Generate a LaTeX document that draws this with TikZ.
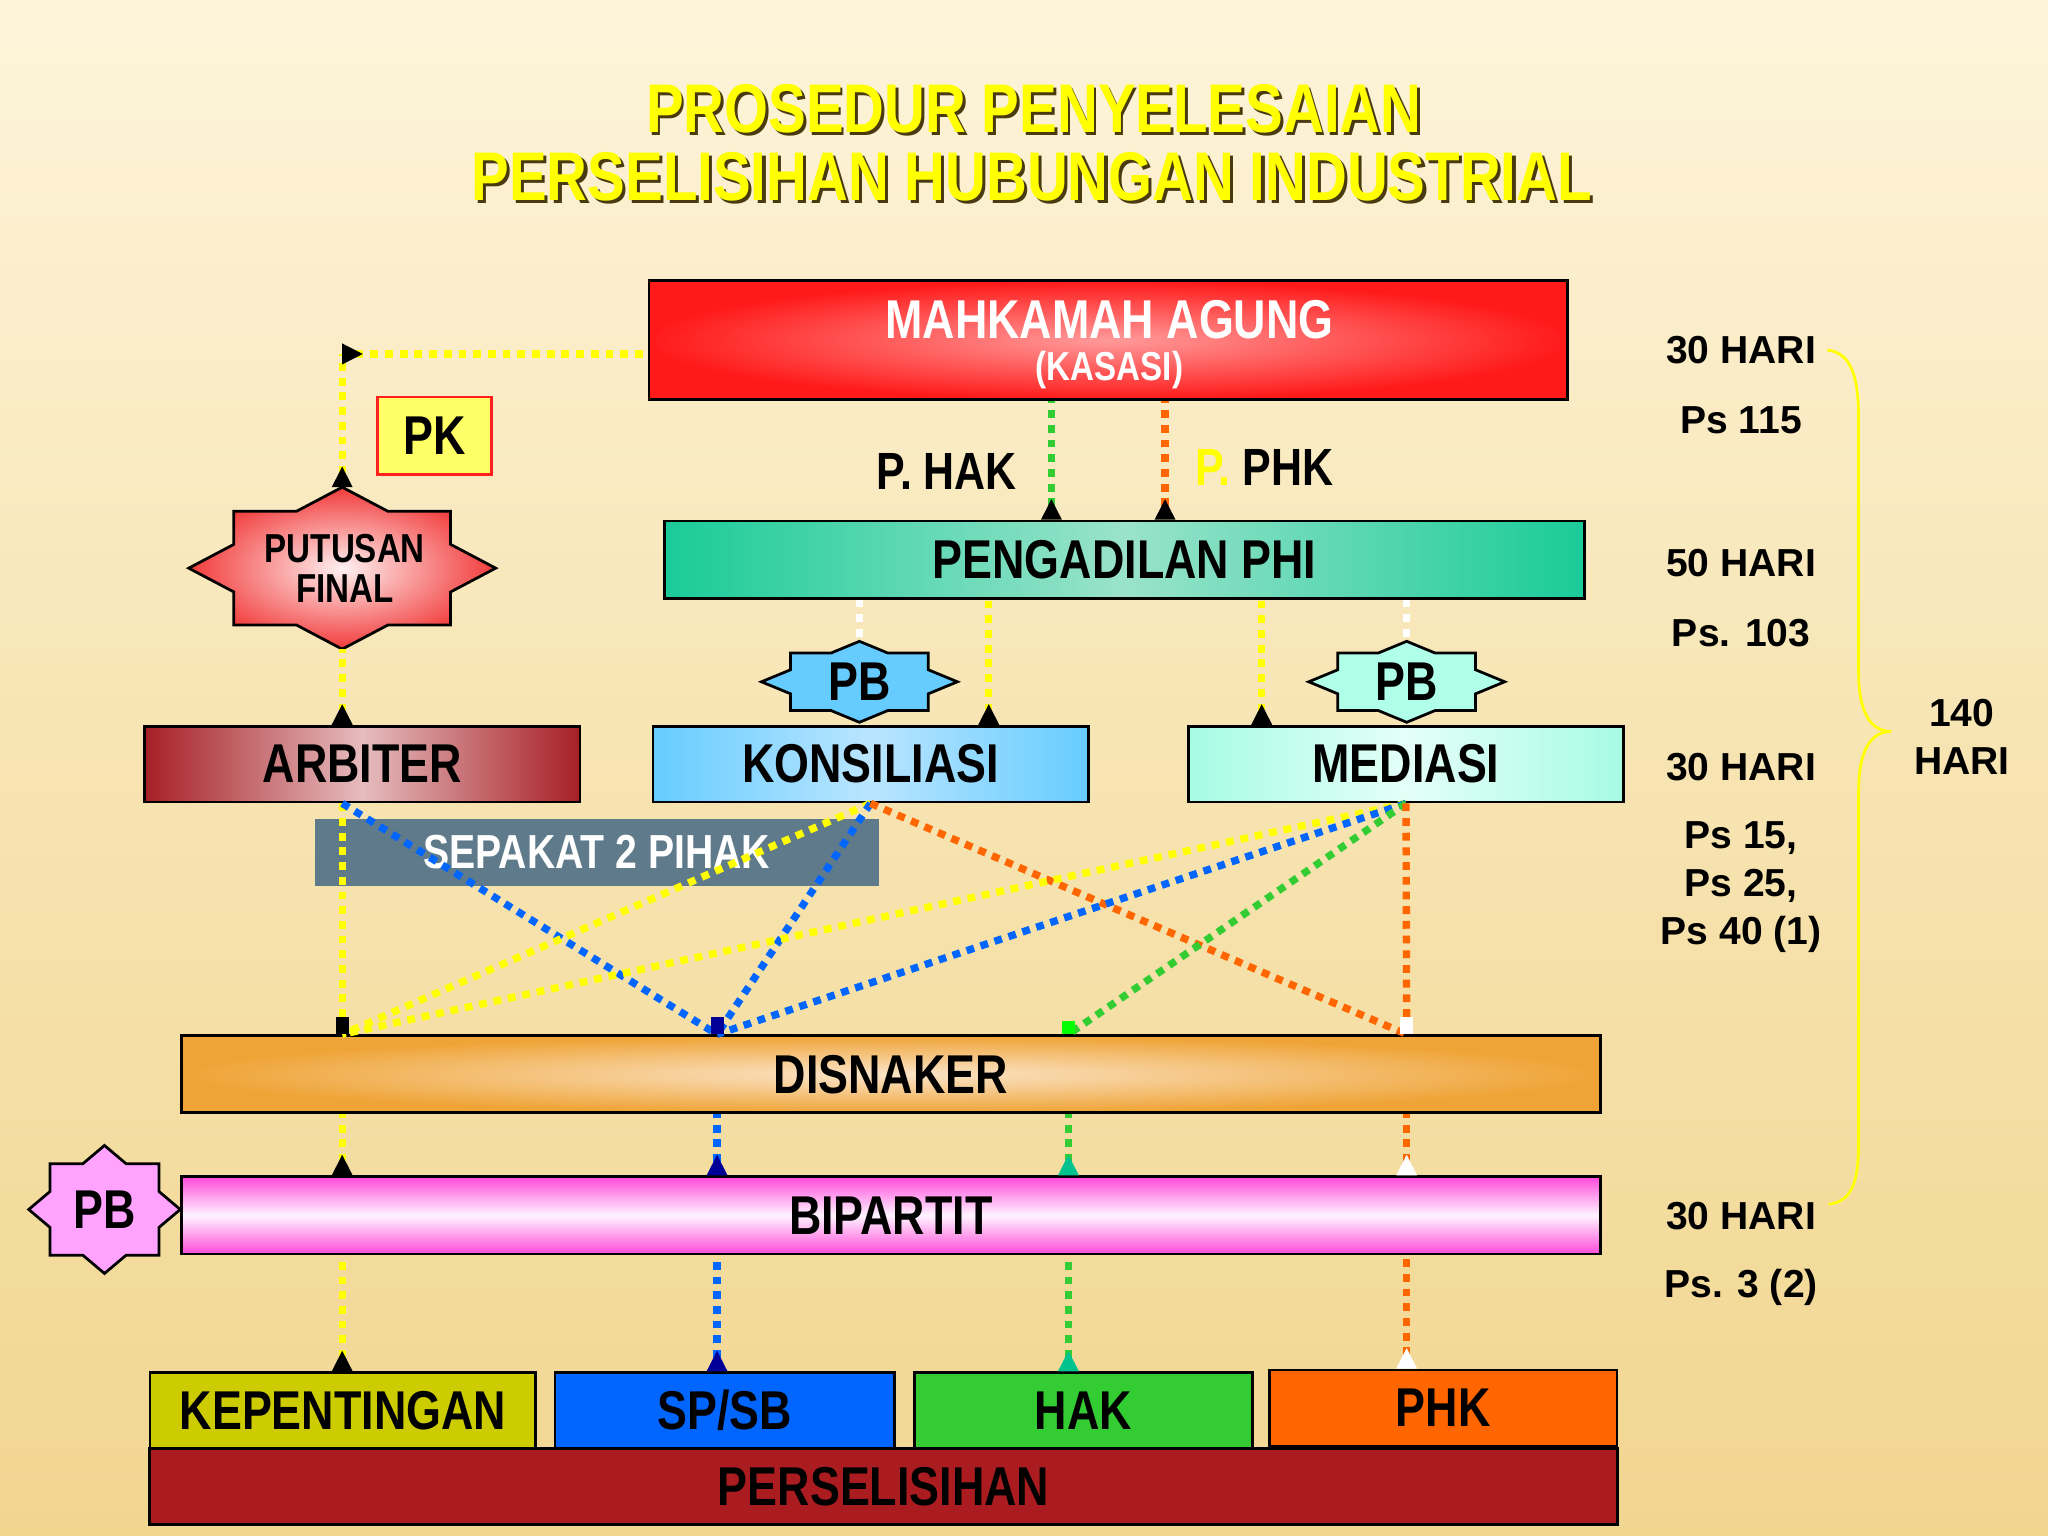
\documentclass[tikz,border=0pt]{standalone}
\usepackage{fontspec}
\setmainfont{Liberation Sans}
\newfontfamily\narrowfont[FakeStretch=0.82]{Liberation Sans}
\usepackage{tikz}
\usetikzlibrary{calc,arrows.meta}

\definecolor{bgtop}{HTML}{FDF4DA}
\definecolor{bgmid}{HTML}{F7E4B2}
\definecolor{bgbot}{HTML}{F1D690}
\definecolor{lnyellow}{HTML}{FFFF00}
\definecolor{lnblue}{HTML}{0066FF}
\definecolor{lngreen}{HTML}{33CC33}
\definecolor{lnorange}{HTML}{FF6600}
\definecolor{tipnavy}{HTML}{000099}
\definecolor{tipteal}{HTML}{00C28E}
\definecolor{shadowc}{HTML}{4A3A10}
\definecolor{maedge}{HTML}{FF1A1A}
\definecolor{mamid}{HTML}{FF9A9A}
\definecolor{pkfill}{HTML}{FFFF66}
\definecolor{pkline}{HTML}{FF2020}
\definecolor{phiedge}{HTML}{1ACB98}
\definecolor{phimid}{HTML}{9AE3CA}
\definecolor{arbedge}{HTML}{A62026}
\definecolor{arbmid}{HTML}{E6BCBE}
\definecolor{konsedge}{HTML}{66CCFF}
\definecolor{konsmid}{HTML}{BAE5FF}
\definecolor{mededge}{HTML}{A6FBE4}
\definecolor{medmid}{HTML}{E4FFF8}
\definecolor{sepfill}{HTML}{5F7A8A}
\definecolor{disedge}{HTML}{EFA437}
\definecolor{dismid}{HTML}{FBE4C8}
\definecolor{bipedge}{HTML}{FF4ADB}
\definecolor{bipmid}{HTML}{FFF4FF}
\definecolor{persfill}{HTML}{AA1C1F}
\definecolor{kepfill}{HTML}{CCCC00}
\definecolor{spsbfill}{HTML}{0066FF}
\definecolor{hakfill}{HTML}{33CC33}
\definecolor{phkfill}{HTML}{FF6600}
\definecolor{putedge}{HTML}{F23B3B}
\definecolor{putmid}{HTML}{FFF0F0}
\definecolor{pbblue}{HTML}{66CCFF}
\definecolor{pbaqua}{HTML}{AFFFE9}
\definecolor{pbpink}{HTML}{FFA3FF}
\definecolor{markgreen}{HTML}{00FF00}

\newcommand{\bxfont}{\narrowfont\bfseries\fontsize{11.9}{13}\selectfont}
\newcommand{\smfont}{\narrowfont\bfseries\fontsize{8.8}{8.8}\selectfont}
\newcommand{\ttlfont}{\narrowfont\bfseries\fontsize{15}{17}\selectfont}
\newcommand{\hrfont}{\bfseries\fontsize{8.5}{10.4}\selectfont}

% star = square + diamond: cx, cy, square half w/h, diamond half w/h, options
\newcommand{\eightstar}[7]{%
  \pgfmathsetmacro{\sa}{#5*(1-#4/#6)}%
  \pgfmathsetmacro{\sb}{#6*(1-#3/#5)}%
  \path[#7] (#1,#2-#6) -- (#1+\sa,#2-#4) -- (#1+#3,#2-#4) -- (#1+#3,#2-\sb)
    -- (#1+#5,#2) -- (#1+#3,#2+\sb) -- (#1+#3,#2+#4) -- (#1+\sa,#2+#4)
    -- (#1,#2+#6) -- (#1-\sa,#2+#4) -- (#1-#3,#2+#4) -- (#1-#3,#2+\sb)
    -- (#1-#5,#2) -- (#1-#3,#2-\sb) -- (#1-#3,#2-#4) -- (#1-\sa,#2-#4) -- cycle;}

\tikzset{
  box/.style={draw=black, line width=0.6pt, inner sep=0pt, font=\bxfont},
  starline/.style={draw=black, line width=0.6pt},
  dotline/.style={line width=1.6pt, dash pattern=on 1.7pt off 1.5pt},
  tipup/.style={arrows={{Triangle[reversed,length=4.6pt,width=4.2pt,color=#1]}-}},
  tipup/.default=black,
  hari/.style={font=\hrfont, align=center, inner sep=0pt},
  label/.style={font=\narrowfont\bfseries\fontsize{11.4}{13}\selectfont, inner sep=0pt}
}

\begin{document}
\begin{tikzpicture}[x=0.01cm,y=-0.01cm]
  % background
  \shade[top color=bgtop, bottom color=bgbot, middle color=bgmid] (0,0) rectangle (1568,1176);
  \useasboundingbox (0,0) rectangle (1568,1176);

  % title
  \node[font=\ttlfont, text=shadowc] (title1s) at (793.5,85.5) {PROSEDUR PENYELESAIAN};
  \node[font=\ttlfont, text=lnyellow] (title1) at (791.5,83) {PROSEDUR PENYELESAIAN};
  \node[font=\ttlfont, text=shadowc] (title2s) at (792.5,137.5) {PERSELISIHAN HUBUNGAN INDUSTRIAL};
  \node[font=\ttlfont, text=lnyellow] (title2) at (790,135) {PERSELISIHAN HUBUNGAN INDUSTRIAL};

  % columns
  \coordinate (xa) at (262,0);
  \coordinate (xb) at (549,0);
  \coordinate (xc) at (818,0);
  \coordinate (xd) at (1077,0);
  \coordinate (xhak) at (805,0);
  \coordinate (xphk) at (892,0);
  \coordinate (xk) at (757,0);
  \coordinate (xm) at (966,0);

  % boxes
  \node[box, minimum width=7.03cm, minimum height=0.91cm, inner color=mamid, outer color=maedge] (ma) at (848.5,260.5) {};
  \node[font=\bxfont, text=white, inner sep=0pt] (matext) at (849.5,245) {MAHKAMAH AGUNG};
  \node[font=\smfont, text=white, inner sep=0pt] (kasasi) at (849.5,283) {(KASASI)};
  \node[box, draw=pkline, fill=pkfill, minimum width=0.87cm, minimum height=0.59cm] (pk) at (332.5,333.5) {PK};
  \node[box, minimum width=7.04cm, minimum height=0.59cm, left color=phiedge, right color=phiedge,
        middle color=phimid] (phi) at (861,428.5) {PENGADILAN PHI};
  \node[box, minimum width=3.33cm, minimum height=0.58cm, left color=arbedge, right color=arbedge,
        middle color=arbmid] (arb) at (277.5,585) {ARBITER};
  \node[box, minimum width=3.33cm, minimum height=0.58cm, left color=konsedge, right color=konsedge,
        middle color=konsmid] (kons) at (666.5,585) {KONSILIASI};
  \node[box, minimum width=3.33cm, minimum height=0.58cm, left color=mededge, right color=mededge,
        middle color=medmid] (med) at (1076.5,585) {MEDIASI};
  \node[box, draw=none, fill=sepfill, minimum width=4.32cm, minimum height=0.51cm, text=white,
        font=\narrowfont\bfseries\fontsize{10.4}{12}\selectfont] (sepakat) at (457,652.5) {SEPAKAT 2 PIHAK};
  \node[box, minimum width=10.86cm, minimum height=0.59cm, inner color=dismid, outer color=disedge] (dis) at (682,822.5) {DISNAKER};
  \node[box, minimum width=10.86cm, minimum height=0.59cm, top color=bipedge, bottom color=bipedge,
        middle color=bipmid] (bip) at (682,930.5) {BIPARTIT};
  \node[box, minimum width=11.23cm, minimum height=0.58cm, fill=persfill] (pers) at (676.5,1138) {PERSELISIHAN};
  \node[box, minimum width=2.95cm, minimum height=0.58cm, fill=kepfill] (kep) at (262.5,1080) {KEPENTINGAN};
  \node[box, minimum width=2.60cm, minimum height=0.58cm, fill=spsbfill] (spsb) at (555,1080) {SP/SB};
  \node[box, minimum width=2.59cm, minimum height=0.58cm, fill=hakfill] (hak) at (829.5,1080) {HAK};
  \node[box, minimum width=2.66cm, minimum height=0.58cm, fill=phkfill] (phk) at (1105,1078) {PHK};

  % stars
  \eightstar{262}{435}{83}{43.6}{117.5}{62}{starline, inner color=putmid, outer color=putedge}
  \node[font=\smfont, align=center, inner sep=0pt] (putusan) at (264,435) {PUTUSAN\\FINAL};
  \coordinate (putusan-n) at (262,373);
  \coordinate (putusan-s) at (262,497);
  \eightstar{658}{522}{52.7}{22}{75}{31}{starline, fill=pbblue}
  \node[font=\bxfont, inner sep=0pt] (pbk) at (658,522) {PB};
  \coordinate (pbk-n) at (658,491);
  \eightstar{1077}{522}{52.7}{22}{75}{31}{starline, fill=pbaqua}
  \node[font=\bxfont, inner sep=0pt] (pbm) at (1077,522) {PB};
  \coordinate (pbm-n) at (1077,491);
  \eightstar{80}{926}{41.7}{35}{58}{49}{starline, fill=pbpink}
  \node[font=\bxfont, inner sep=0pt] (pbb) at (80,926) {PB};

  % labels
  \node[label] (phak) at (725,361) {P. HAK};
  \node[label] (pphk) at (968,358) {\textcolor{lnyellow}{P.} PHK};

  % PK route
  \coordinate (corner) at (262,271);
  \draw[dotline, lnyellow, tipup] (putusan-n) -- (corner);
  \draw[dotline, lnyellow, tipup] (corner) -- (ma.west |- corner);
  \draw[dotline, lnyellow, tipup] (arb.north -| xa) -- (putusan-s);

  % to kasasi and PHI
  \draw[dotline, lngreen, tipup] (phi.north -| xhak) -- (ma.south -| xhak);
  \draw[dotline, lnorange, tipup] (phi.north -| xphk) -- (ma.south -| xphk);
  \draw[dotline, white] (phi.south -| pbk) -- (pbk-n);
  \draw[dotline, white] (phi.south -| pbm) -- (pbm-n);
  \draw[dotline, lnyellow, tipup] (kons.north -| xk) -- (phi.south -| xk);
  \draw[dotline, lnyellow, tipup] (med.north -| xm) -- (phi.south -| xm);

  % from disnaker up
  \draw[dotline, lnyellow] (arb.south -| xa) -- (dis.north -| xa);
  \draw[dotline, lnblue] (arb.south -| xa) -- (dis.north -| xb);
  \draw[dotline, lnyellow] (kons.south) -- (dis.north -| xa);
  \draw[dotline, lnblue] (kons.south) -- (dis.north -| xb);
  \draw[dotline, lnorange] (kons.south) -- (dis.north -| xd);
  \draw[dotline, lnyellow] (med.south) -- (dis.north -| xa);
  \draw[dotline, lnblue] (med.south) -- (dis.north -| xb);
  \draw[dotline, lngreen] (med.south) -- (dis.north -| xc);
  \draw[dotline, lnorange] (med.south) -- (dis.north -| xd);
  \fill[black] (dis.north -| xa) ++(-5,0) rectangle ++(10,-13);
  \fill[tipnavy] (dis.north -| xb) ++(-5,0) rectangle ++(10,-13);
  \fill[markgreen] (dis.north -| xc) ++(-5,0) rectangle ++(10,-10);
  \fill[white] (dis.north -| xd) ++(-5,0) rectangle ++(10,-13);

  % bipartit to disnaker
  \draw[dotline, lnyellow, tipup] (bip.north -| xa) -- (dis.south -| xa);
  \draw[dotline, lnblue, tipup=tipnavy] (bip.north -| xb) -- (dis.south -| xb);
  \draw[dotline, lngreen, tipup=tipteal] (bip.north -| xc) -- (dis.south -| xc);
  \draw[dotline, lnorange, tipup=white] (bip.north -| xd) -- (dis.south -| xd);

  % perselisihan to bipartit
  \draw[dotline, lnyellow, tipup] (kep.north -| xa) -- (bip.south -| xa);
  \draw[dotline, lnblue, tipup=tipnavy] (spsb.north -| xb) -- (bip.south -| xb);
  \draw[dotline, lngreen, tipup=tipteal] (hak.north -| xc) -- (bip.south -| xc);
  \draw[dotline, lnorange, tipup=white] (phk.north -| xd) -- (bip.south -| xd);

  % time limits
  \node[hari] (h1) at (1333,268) {30 HARI};
  \node[hari] (p1) at (1333,322) {Ps 115};
  \node[hari] (h2) at (1333,431) {50 HARI};
  \node[hari] (p2) at (1333,485) {Ps. 103};
  \node[hari] (h3) at (1333,587) {30 HARI};
  \node[hari] (p3) at (1333,679) {Ps 15,\\Ps 25,\\Ps 40 (1)};
  \node[hari] (h4) at (1333,931) {30 HARI};
  \node[hari] (p4) at (1333,986) {Ps. 3 (2)};
  \node[hari] (total) at (1502,564) {140\\HARI};
  \draw[lnyellow, line width=0.6pt] (1399,268) .. controls (1418,270) and (1423,290) .. (1423,321)
    -- (1423,515) .. controls (1423,545) and (1432,560) .. (1448,560)
    .. controls (1432,560) and (1423,575) .. (1423,606)
    -- (1423,874) .. controls (1423,905) and (1418,920) .. (1400,922);
\end{tikzpicture}
\end{document}
